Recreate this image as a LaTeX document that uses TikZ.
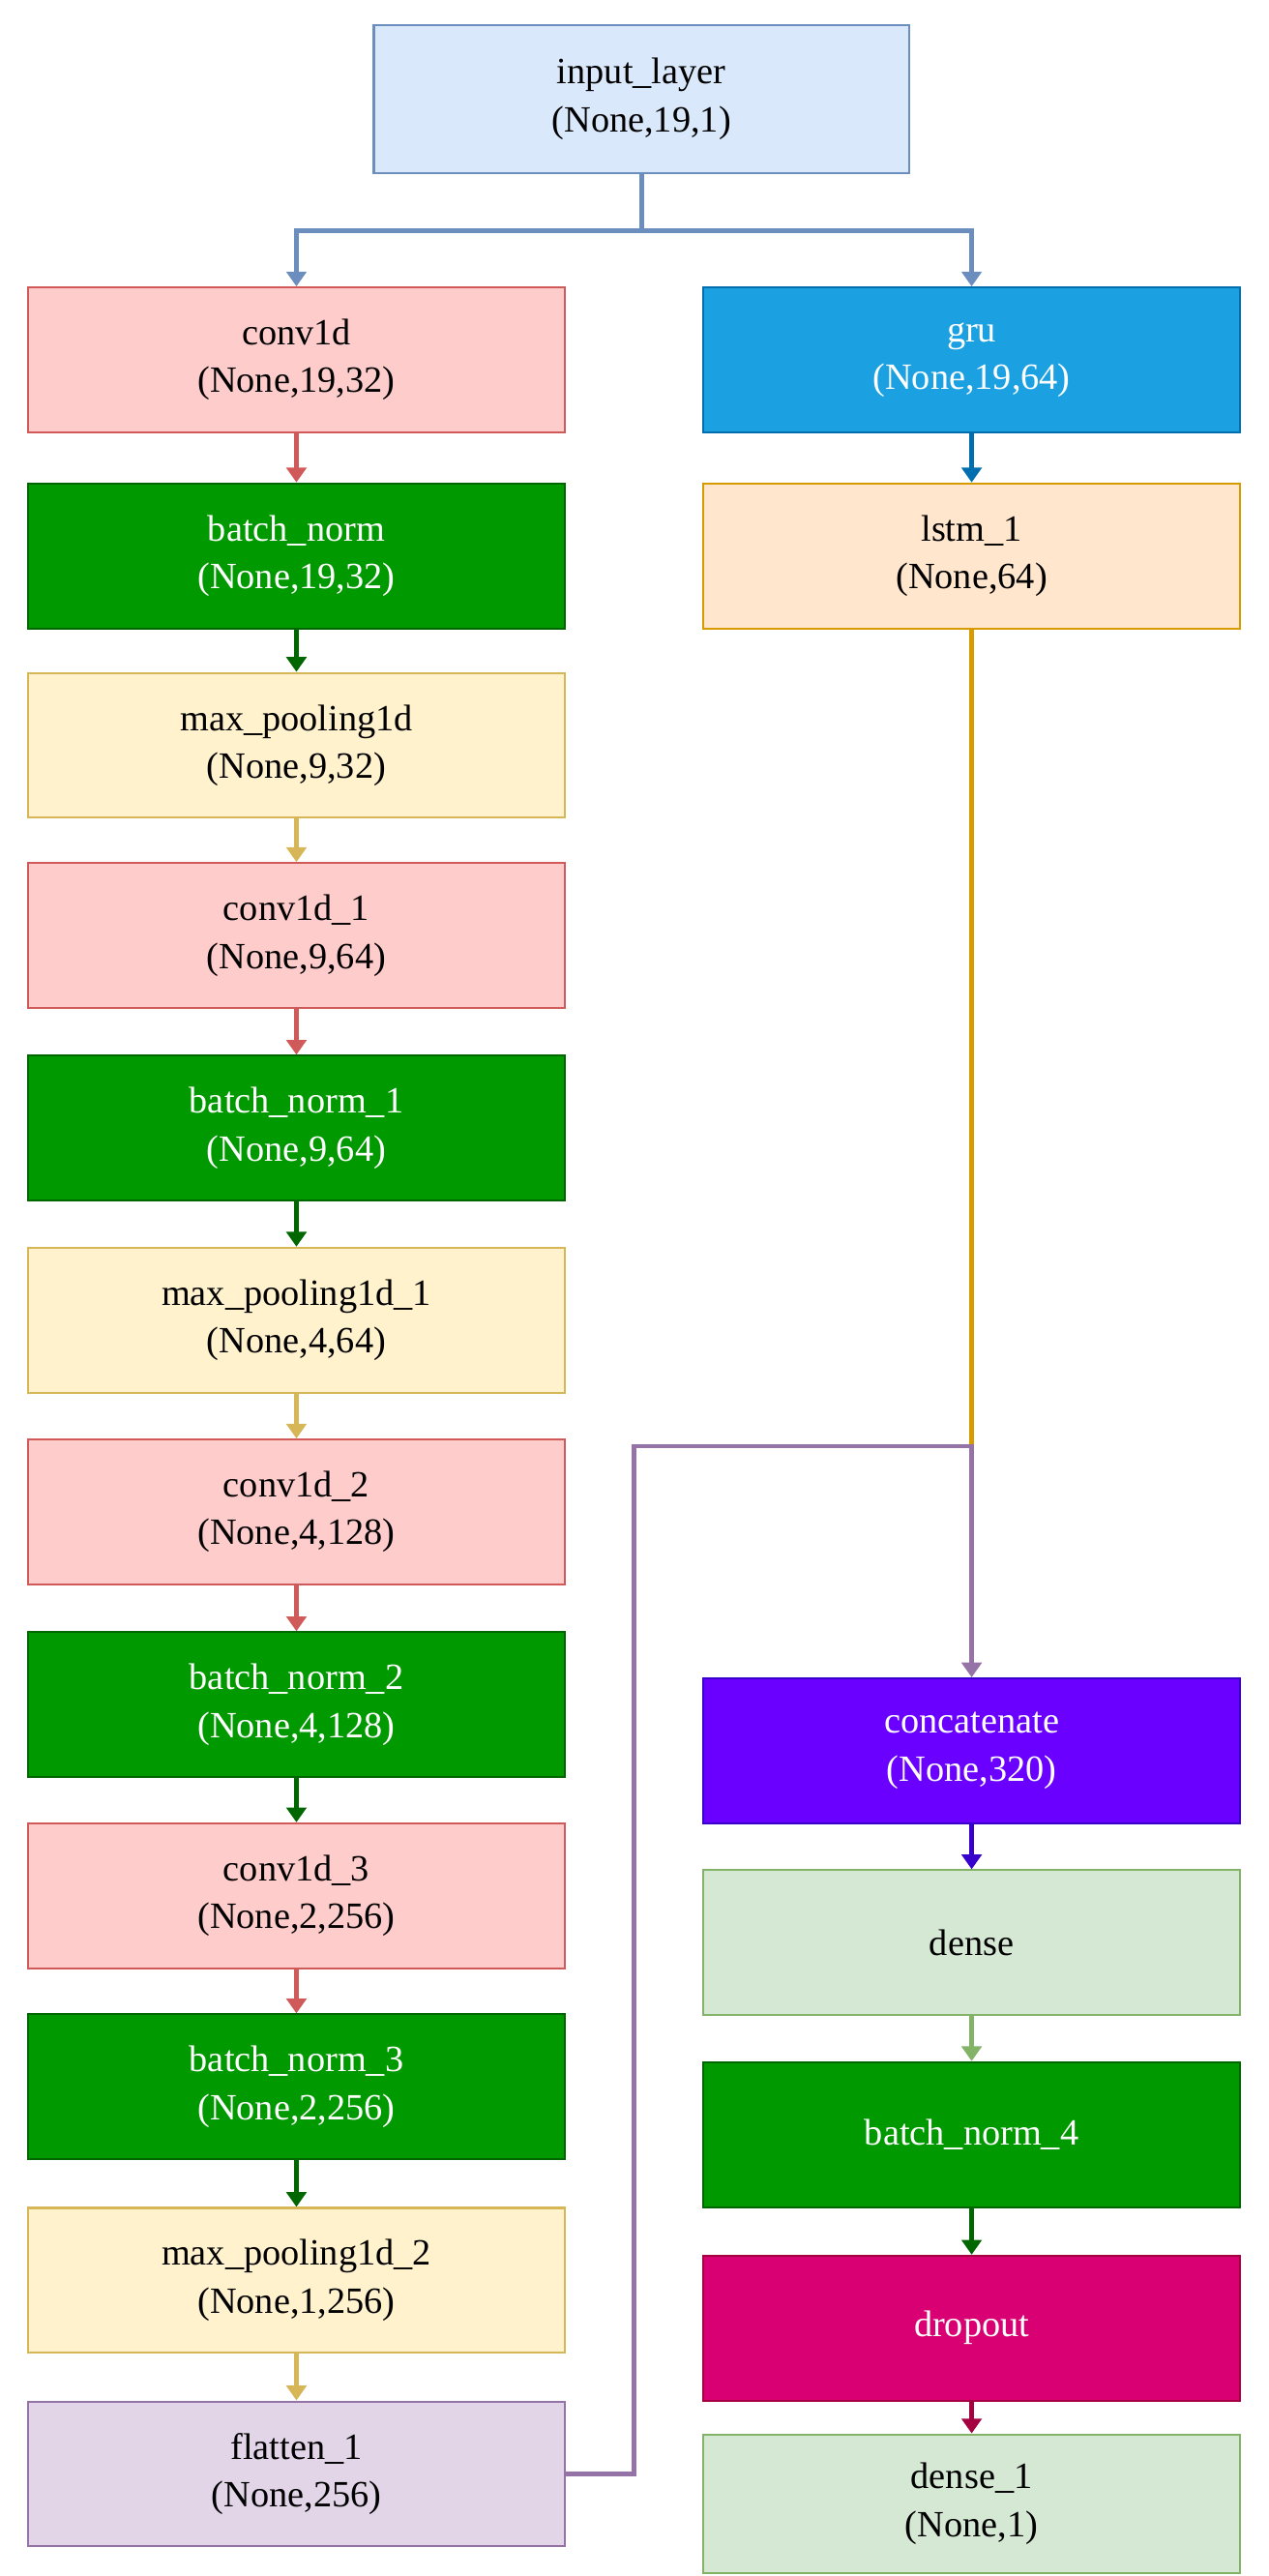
\documentclass[tikz,border=0pt]{standalone}
\usepackage{fontspec}
\setmainfont{Liberation Serif}
\usetikzlibrary{arrows.meta}
\definecolor{cF}{HTML}{FFCCCC}\definecolor{cS}{HTML}{D05A5A}
\definecolor{bF}{HTML}{009900}\definecolor{bS}{HTML}{006600}
\definecolor{mF}{HTML}{FFF2CC}\definecolor{mS}{HTML}{D6B656}
\definecolor{iF}{HTML}{DAE8FC}\definecolor{iS}{HTML}{6C8EBF}
\definecolor{gF}{HTML}{1BA1E2}\definecolor{gS}{HTML}{006EAF}
\definecolor{lF}{HTML}{FFE6CC}\definecolor{lS}{HTML}{D79B00}
\definecolor{fF}{HTML}{E1D5E7}\definecolor{fS}{HTML}{9673A6}
\definecolor{kF}{HTML}{6A00FF}\definecolor{kS}{HTML}{3700CC}
\definecolor{dF}{HTML}{D5E8D4}\definecolor{dS}{HTML}{82B366}
\definecolor{pF}{HTML}{D80073}\definecolor{pS}{HTML}{A50040}
\tikzset{
 box/.style={draw, line width=1.2pt, minimum width=326pt, minimum height=88pt, align=center, font=\fontsize{22.5}{29}\selectfont, inner sep=0pt},
 conv/.style={box, fill=cF, draw=cS},
 bn/.style={box, fill=bF, draw=bS, text=white},
 mp/.style={box, fill=mF, draw=mS},
 arr/.style={line width=2.8pt, -{Triangle[length=9pt,width=12pt]}},
}
\begin{document}
\begin{tikzpicture}[x=1pt,y=-1pt]
\useasboundingbox (0,0) rectangle (770,1564);
\node[box, fill=iF, draw=iS, minimum width=325pt, minimum height=90pt] (in) at (389.5,60) {input\_layer\\(None,19,1)};
\node[conv] (c0) at (180,218.5) {conv1d\\(None,19,32)};
\node[bn] (b0) at (180,337.5) {batch\_norm\\(None,19,32)};
\node[mp] (m0) at (180,452.5) {max\_pooling1d\\(None,9,32)};
\node[conv] (c1) at (180,568) {conv1d\_1\\(None,9,64)};
\node[bn] (b1) at (180,685) {batch\_norm\_1\\(None,9,64)};
\node[mp] (m1) at (180,801.5) {max\_pooling1d\_1\\(None,4,64)};
\node[conv] (c2) at (180,918) {conv1d\_2\\(None,4,128)};
\node[bn] (b2) at (180,1035) {batch\_norm\_2\\(None,4,128)};
\node[conv] (c3) at (180,1151) {conv1d\_3\\(None,2,256)};
\node[bn] (b3) at (180,1267) {batch\_norm\_3\\(None,2,256)};
\node[mp] (m2) at (180,1384.5) {max\_pooling1d\_2\\(None,1,256)};
\node[box, fill=fF, draw=fS] (fl) at (180,1502) {flatten\_1\\(None,256)};
\node[box, fill=gF, draw=gS, text=white] (gru) at (590,218.5) {gru\\(None,19,64)};
\node[box, fill=lF, draw=lS] (ls) at (590,337.5) {lstm\_1\\(None,64)};
\node[box, fill=kF, draw=kS, text=white] (cat) at (590,1063) {concatenate\\(None,320)};
\node[box, fill=dF, draw=dS] (d0) at (590,1179.5) {dense};
\node[bn] (b4) at (590,1296) {batch\_norm\_4};
\node[box, fill=pF, draw=pS, text=white] (dr) at (590,1413.5) {dropout};
\node[box, fill=dF, draw=dS, minimum height=84pt] (d1) at (590,1520) {dense\_1\\(None,1)};
\coordinate (j) at (590,878);
\coordinate (t) at (389.5,140);
\draw[arr, draw=iS] (in.south) -- (t) -| (c0.north);
\draw[arr, draw=iS] (t) -| (gru.north);
\foreach \a/\b/\c in {c0/b0/cS,b0/m0/bS,m0/c1/mS,c1/b1/cS,b1/m1/bS,m1/c2/mS,c2/b2/cS,b2/c3/bS,c3/b3/cS,b3/m2/bS,m2/fl/mS,gru/ls/gS,cat/d0/kS,d0/b4/dS,b4/dr/bS,dr/d1/pS}
  \draw[arr, draw=\c] (\a) -- (\b);
\draw[line width=2.8pt, draw=lS] (ls.south) -- (j);
\draw[arr, draw=fS] (fl.east) -- (385,1502) -- (385,878) -- (j) -- (cat.north);
\end{tikzpicture}
\end{document}
